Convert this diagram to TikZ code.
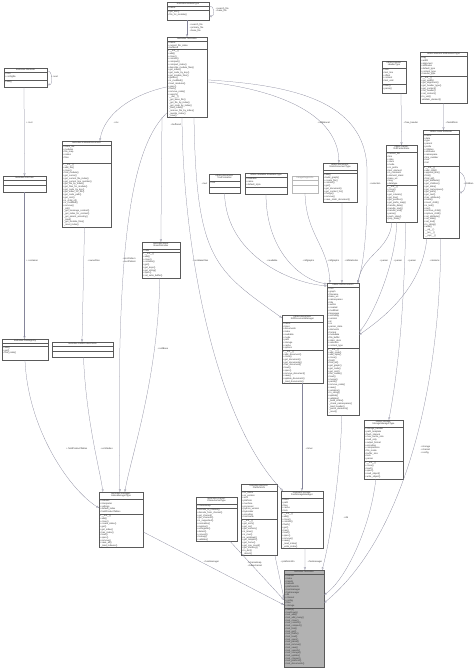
\documentclass[tikz,border=0pt]{standalone}
\usepackage{fontspec}
\setmainfont{Liberation Sans}
\usetikzlibrary{arrows.meta,fit}
\definecolor{edgec}{HTML}{85859A}
\definecolor{boxc}{HTML}{5A5A5A}
\definecolor{txtc}{HTML}{303030}
\newcommand\mf{\fontsize{2.3}{2.72}\selectfont}
\tikzset{
 cls/.style={draw=boxc, line width=0.25bp, inner sep=0pt},
 sepl/.style={draw=boxc, line width=0.25bp},
 ttl/.style={font=\mf, text=txtc, align=center, anchor=north, inner sep=0.4bp},
 mem/.style={font=\mf, text=txtc, align=left, anchor=north west, inner sep=0.5bp},
 rel/.style={draw=edgec, line width=0.25bp, -{Triangle[open,length=2.4bp,width=2bp]}},
 lbl/.style={font=\mf, text=txtc, align=left, anchor=west, inner sep=0.3bp},
}
\newcommand\umlbox[9]{%
 \node[cls, fit={(#2,#3) (#4,#5)}] (#1) {};
 \draw[sepl] (#2,#6) -- (#4,#6) (#2,#7) -- (#4,#7);
 \node[ttl] (#1t) at ({(#2+#4)/2},#3) {#8};
 \node[mem] (#1a) at (#2,#6) {#9};}
\newcommand\umlmeth[4]{\node[mem] (#1m) at (#2,#3) {#4};}
\begin{document}
\begin{tikzpicture}[x=1bp,y=-1bp]
\useasboundingbox (0,0) rectangle (474,668);

% ---------- boxes ----------
\umlbox{A}{167}{2}{209}{20}{6.5}{10.5}{textindex.ModuleType}{+ name}
\umlmeth{A}{167}{10.5}{+ get\_doc()\\+ file\_for\_module()}

\umlbox{B}{167}{37}{207}{117}{41.5}{49.5}{textindex.TextIndex}{+ name\\+ current\_file\_index\\+ buffered}
\umlmeth{B}{167}{49.5}{+ \_\_init\_\_()\\+ add()\\+ close()\\+ commit()\\+ compact()\\+ compact\_index()\\+ describe\_module\_files()\\+ get\_index()\\+ get\_node\_by\_key()\\+ get\_module\_files()\\+ getdoc()\\+ is\_modified()\\+ load\_modules()\\+ open()\\+ flush()\\+ remove\_node()\\+ search()\\- \_\_del\_\_()\\- \_get\_base\_file()\\- \_get\_file\_by\_index()\\- \_get\_node\_by\_index()\\- \_load\_index()\\- \_remove\_file\_by\_index()\\- \_rewrite\_index()\\- \_save()}

\umlbox{C}{4}{68}{47}{87}{72.5}{80.5}{textindex.FileNode}{+ files\\+ configfile}
\umlmeth{C}{4}{80.5}{+ add()}

\umlbox{E}{3}{176}{46}{192}{180}{185}{textindex.FileTree}{}
\umlbox{F}{2}{339}{48}{360}{343.5}{346}{textindex.FileRegistry}{}
\umlmeth{F}{2}{346}{+ add()\\+ get()\\+ find\_node()}

\umlbox{D}{62}{141}{111}{227}{145}{163.5}{textindex.IndexedDocument}{+ index\_file\\+ modules\\+ file\_map\\+ nodes\\+ files}
\umlmeth{D}{62}{163.5}{+ \_\_init\_\_()\\+ add\_file()\\+ close()\\+ find\_module()\\+ get\_cursor()\\+ get\_current\_file\_index()\\+ get\_current\_line\_number()\\+ get\_file\_by\_index()\\+ get\_files\_for\_module()\\+ get\_node\_by\_key()\\+ get\_index\_for\_file()\\+ get\_node\_path()\\+ get\_root()\\+ is\_child\_of()\\+ is\_modified()\\+ remove()\\- \_init()\\- \_get\_message\_context()\\- \_get\_index\_for\_context()\\- \_get\_parent\_ancestry()\\- \_load()\\- \_get\_module\_files()\\- \_reset\_index()}

\umlbox{G}{52}{342}{113}{357}{346.5}{351.5}{textindex.FieldProductTable}{}

\umlbox{H}{142}{242}{180}{278}{249.5}{252.5}{textindex.base.\\BaseFileIndex}{+ cells}
\umlmeth{H}{142}{252.5}{+ \_\_init\_\_()\\+ add()\\+ close()\\+ contains()\\+ get()\\+ get\_keys()\\+ get\_string()\\+ open()\\+ set\_write\_buffer()}

\umlbox{S9}{209}{174}{240}{193}{181.5}{187.5}{rdfdoc.document.\\TextFormatter}{+ text}
\umlbox{S10}{245}{173}{287}{194}{177.5}{187}{rdfdoc.readable.ReadableType}{+ readable\\+ name\\+ default\_style}

\node[draw=gray!55, line width=0.25bp, inner sep=0pt, fit={(292,176) (318,193)}] (IP) {};
\draw[gray!55, line width=0.25bp] (292,180) -- (318,180) (292,185) -- (318,185);
\node[ttl, text=gray] (IPt) at (305,176) {ImagePluginInfo};

\umlbox{M}{323}{163}{357}{202}{170.5}{173.5}{rdfdoc.document.\\StaticDocumentType}{}
\umlmeth{M}{323}{173.5}{+ add()\\+ build\_graph()\\+ create\_file()\\+ commit()\\+ get()\\+ get\_document()\\+ get\_content\_for()\\+ merge()\\+ remove()\\+ save\_static\_document()}

\umlbox{Q}{382}{61}{406}{93}{68.5}{84}{rdfdoc.header.\\HeaderType}{+ size\\+ last\_line\\+ offset\\+ content\\+ last\_end}
\umlmeth{Q}{382}{84}{+ filter()\\+ parse()}

\umlbox{R}{420}{52}{467}{103}{56.5}{76}{rdfdoc.element.RdfElementType}{+ tag\\+ width\\+ alignment\\+ attributes\\+ default\_type\\+ content\_type\\+ header\_type}
\umlmeth{R}{420}{76}{+ \_\_init\_\_()\\+ get\_width()\\+ get\_alignment()\\+ get\_header\_type()\\+ get\_content()\\+ set\_header()\\+ set\_content()\\+ to\_xml()\\- validate\_element()}

\umlbox{N}{386}{145}{417}{222}{152.5}{185}{rdfdoc.parser.\\RdfParserState}{+ current\_file\\+ line\\+ state\\+ stack\\+ mode\\+ ns\_prefix\\+ last\_element\\+ in\_comment\\+ element\_stack\\+ base\_uri\\+ lang\\+ datatype}
\umlmeth{N}{386}{185}{+ \_\_init\_\_()\\+ close()\\+ feed()\\+ get\_column()\\+ get\_line()\\+ get\_position()\\+ get\_prefix\_map()\\+ handle\_data()\\+ handle\_start()\\+ handle\_end()\\+ parse()\\+ push\_state()\\+ pop\_state()}

\umlbox{O}{423}{130}{459}{238}{134.5}{166}{rdfdoc.node.RdfNode}{+ name\\+ data\\+ type\\+ parent\\+ prefix\\+ children\\+ attributes\\+ namespace\\+ line\_number\\+ text\\+ tail}
\umlmeth{O}{423}{166}{+ \_\_init\_\_()\\+ add\_child()\\+ append\_text()\\+ find()\\+ find\_all()\\+ get\_attribute()\\+ get\_children()\\+ get\_data()\\+ get\_namespace()\\+ get\_path()\\+ get\_text()\\+ has\_attribute()\\+ index()\\+ insert\_child()\\+ is\_leaf()\\+ iter()\\+ remove\_child()\\+ replace\_child()\\+ set\_attribute()\\+ set\_data()\\+ set\_text()\\+ to\_string()\\+ walk()\\- \_\_eq\_\_()\\- \_\_len\_\_()\\- \_\_repr\_\_()}

\umlbox{L}{327}{283}{359}{415}{287.5}{348}{rdfdoc.RdfDocument}{+ root\\+ graph\\+ filename\\+ base\_uri\\+ namespaces\\+ title\\+ author\\+ created\\+ modified\\+ language\\+ encoding\\+ version\\+ id\\+ ns\\+ parser\_state\\+ elements\\+ format\\+ metadata\\+ file\_buffer\\+ static\_docs\\+ selection\\+ content\_type}
\umlmeth{L}{327}{348}{+ \_\_init\_\_()\\+ add\_node()\\+ add\_triple()\\+ close()\\+ find()\\+ find\_all()\\+ get\_graph()\\+ get\_node()\\+ get\_root()\\+ iter\_nodes()\\+ load()\\+ merge()\\+ parse()\\+ remove\_node()\\+ save()\\+ serialize()\\+ to\_string()\\+ update()\\+ validate()\\- \_build\_index()\\- \_check\_namespaces()\\- \_load\_header()\\- \_parse\_elements()\\- \_reset()}

\umlbox{K}{282}{315}{323}{383}{322.5}{350}{rdfdoc.document.\\RdfDocumentManager}{+ name\\+ timer\\+ documents\\+ index\\+ readable\\+ mode\\+ path\\+ storage\\+ cache\\+ options}
\umlmeth{K}{282}{350}{+ \_\_init\_\_()\\+ add\_document()\\+ close()\\+ get\_document()\\+ get\_documents()\\+ has\_document()\\+ load()\\+ open()\\+ remove\_document()\\+ save()\\+ update\_document()\\- \_load\_documents()}

\umlbox{P}{364}{420}{403}{479}{427.5}{461.5}{rdfdoc.storage.\\StorageManagerType}{+ storage\_handler\\+ path\_template\\+ flush\_interval\\+ max\_cache\_size\\+ read\_only\\+ output\_format\\+ encoding\\+ compression\\+ file\_mode\\+ buffer\_size\\+ lock\\+ parser}
\umlmeth{P}{364}{461.5}{+ \_\_init\_\_()\\+ close()\\+ load()\\+ open()\\+ read\_object()\\+ write\_object()}

\umlbox{I}{99}{492}{143}{547}{499.5}{514.5}{textindex.manager.\\IndexManagerType}{+ indexes\\+ interpreter\\+ settings\\+ default\_index\\+ fieldProductTables}
\umlmeth{I}{99}{514.5}{+ \_\_init\_\_()\\+ add()\\+ close()\\+ create\_index()\\+ get()\\+ get\_index()\\+ has\_index()\\+ load()\\+ open()\\+ remove()\\+ save\_all()\\- \_load\_indexes()}

\umlbox{S}{196}{497}{237}{541}{504.5}{508.5}{textindex.charset.\\CharacterSetType}{+ charsetmap}
\umlmeth{S}{196}{508.5}{+ encode\_to\_charset()\\+ decode\_from\_charset()\\+ get\_charset()\\+ get\_charsets()\\+ is\_supported()\\+ normalize()\\+ register()\\+ unregister()\\+ detect()\\+ convert()\\+ lookup()\\+ validate()}

\umlbox{T}{241}{484}{277}{555}{491.5}{519.5}{textindex.platform.\\PlatformInfo}{+ os\_name\\+ os\_version\\+ arch\\+ platform\\+ machine\\+ processor\\+ python\_version\\+ byteorder\\+ encoding\\+ hostname}
\umlmeth{T}{241}{519.5}{+ \_\_init\_\_()\\+ get\_arch()\\+ get\_os()\\+ get\_version()\\+ is\_linux()\\+ is\_mac()\\+ is\_windows()\\+ get\_tempdir()\\+ get\_home()\\+ get\_cpu\_count()\\+ get\_memory()\\+ to\_dict()\\- \_detect()}

\umlbox{J}{281}{491}{323}{548}{498.5}{512.5}{textindex.storage.\\FastStorageManager}{+ timer\\+ path\\+ files\\+ cache\\+ lock}
\umlmeth{J}{281}{512.5}{+ \_\_init\_\_()\\+ add()\\+ close()\\+ commit()\\+ flush()\\+ get()\\+ has()\\+ load()\\+ open()\\+ remove()\\+ save()\\- \_read\_index()\\- \_write\_index()}

\fill[gray!60] (284,570) rectangle (324,667);
\umlbox{G0}{284}{570}{324}{667}{574.5}{608}{textindex.TestIndex}{+ indexer\\+ index\\+ tmpdir\\+ basedir\\+ platformInfo\\+ hostmanager\\+ fastmanager\\+ db\\+ charset\\+ config\\+ files\\+ storage}
\umlmeth{G0}{284}{608}{+ setUp()\\+ tearDown()\\+ test\_add()\\+ test\_add\_many()\\+ test\_close()\\+ test\_commit()\\+ test\_compact()\\+ test\_find()\\+ test\_get()\\+ test\_index()\\+ test\_load()\\+ test\_open()\\+ test\_parse()\\+ test\_remove()\\+ test\_save()\\+ test\_search()\\+ test\_storage()\\+ test\_update()\\+ test\_charset()\\+ test\_platform()\\+ test\_documents()}

% ---------- connectors ----------
\draw[rel] ([xshift=-1bp]A.south) -- (B.north);
\node[lbl] (l1) at (189,28) {+ search\_file\\+ primary\_file\\+ base\_file};
\draw[rel] ([yshift=-4bp]A.north east) .. controls (215,5) and (215,17) .. ([yshift=-14bp]A.north east);
\node[lbl] (l2) at (215,10) {+ search\_file\\+ base\_file};

\draw[rel] ([yshift=-3bp]C.north east) .. controls (53,70) and (53,86) .. ([yshift=-16bp]C.north east);
\node[lbl] (l3) at (51,77) {+ next};
\draw[rel] ([xshift=-1.5bp]C.south) -- (E.north);
\node[lbl] (l4) at (26,123) {+ root};
\draw[rel] ([yshift=-50bp]B.north west) .. controls (130,95) and (104,115) .. ([xshift=38bp]D.north west);
\node[lbl] (l5) at (113,123) {+ ctx};
\draw[rel] (E.south) -- (E.south |- F.north);
\node[lbl] (l6) at (26,261) {+ container};
\draw[rel] ([xshift=-2bp]D.south) -- ([xshift=-0.5bp]G.north);
\node[lbl] (l7) at (87,261) {+ ownerfiles};
\draw[rel] ([yshift=-76bp]B.north west) .. controls (128,150) and (116,260) .. ([xshift=21bp]I.north west);
\node[lbl] (l8) at (122,260) {+ incrPattern\\+ exclPattern};
\draw[rel] ([xshift=-25bp]B.south) -- ([xshift=19bp]H.north west);
\node[lbl] (l9) at (170,125) {+ buffered};
\draw[rel] (F.south) .. controls (28,430) and (70,490) .. ([yshift=-16bp]I.north west);
\draw[rel] ([xshift=1bp]G.south) .. controls (86,420) and (100,470) .. ([xshift=4bp]I.north west);
\node[lbl] (l10) at (66,449) {+ fieldProductTables};
\node[lbl] (l11) at (100,449) {+ xmlNodes};
\draw[rel] ([xshift=18bp]H.south west) .. controls (158,380) and (130,460) .. ([xshift=26bp]I.north west);
\node[lbl] (l12) at (157,349) {+ cellBase};
\draw[rel] ([xshift=-5bp]B.south) .. controls (183,250) and (215,420) .. ([xshift=2bp]J.north west);
\node[lbl] (l13) at (192,261) {+ nonBaseFiles};
\draw[rel] ([xshift=7bp]B.south) .. controls (196,260) and (215,270) .. ([yshift=-3bp]K.north west);
\node[lbl] (l14) at (201,184) {+ text};
\draw[rel] (S9.south) .. controls (226,255) and (290,283) .. ([yshift=-3bp]L.north west);
\node[lbl] (l15) at (266,261) {+ readable};
\draw[rel] (S10.south) .. controls (266,250) and (300,280) .. ([yshift=-1bp]L.north west);
\node[lbl] (l16) at (302,261) {+ rdfgraphs};
\draw[rel] (IP.south) .. controls (306,235) and (328,245) .. ([xshift=3bp]L.north west);
\node[lbl] (l17) at (327,261) {+ rdfgraphs};
\draw[rel] ([xshift=2bp]M.south) -- ([xshift=15bp]L.north west);
\node[lbl] (l18) at (344,261) {+ rdfstaticdoc};
\draw[rel] ([yshift=-43bp]B.north east) .. controls (290,85) and (366,100) .. (367,170) .. controls (368,240) and (362,270) .. ([xshift=-2bp]L.north east);
\node[lbl] (l19) at (369,184) {+ selection};
\draw[rel] ([yshift=-45bp]B.north east) .. controls (280,90) and (338,115) .. ([xshift=16bp]M.north west);
\node[lbl] (l20) at (317,123) {+ rdfdatacat};
\draw[rel] ([xshift=6bp]N.south west) .. controls (390,250) and (362,255) .. ([xshift=-1bp]L.north east);
\node[lbl] (l21) at (379,261) {+ parser};
\draw[rel] ([xshift=11bp]N.south west) .. controls (395,270) and (370,320) .. ([yshift=-49bp]L.north east);
\node[lbl] (l22) at (393,261) {+ parser};
\draw[rel] ([xshift=20bp]N.south west) .. controls (404,300) and (400,360) .. ([xshift=25bp]P.north west);
\node[lbl] (l23) at (407,261) {+ parser};
\draw[rel] ([xshift=4bp]O.south west) .. controls (422,290) and (380,320) .. ([yshift=-52bp]L.north east);
\node[lbl] (l24) at (429,261) {+ rdelemc};
\draw[rel] ([xshift=18bp]O.south west) .. controls (440,400) and (400,540) .. ([yshift=-33bp]G0.north east);
\node[lbl] (l25) at (420,450) {+ storage\\+ charset\\+ config};
\draw[rel] ([xshift=15bp]L.south west) .. controls (340,480) and (330,540) .. ([xshift=-2bp]G0.north east);
\node[lbl] (l26) at (343,518) {+ db};
\draw[rel] ([xshift=12bp]P.south west) .. controls (370,530) and (345,580) .. ([yshift=-25bp]G0.north east);
\draw[rel] ([yshift=-40bp]I.north east) -- ([yshift=-35bp]G0.north west);
\node[lbl] (l27) at (203,562) {+ hostmanager};
\draw[rel] ([xshift=34bp]S.south west) -- ([yshift=-30bp]G0.north west);
\node[lbl] (l28) at (247,564) {+ charsetmap\\+ basecharset};
\draw[rel] ([xshift=34bp]T.south west) -- ([yshift=-28bp]G0.north west);
\node[lbl] (l29) at (280,562) {+ platformInfo};
\draw[rel] ([xshift=24bp]J.south west) -- ([xshift=21bp]G0.north west);
\node[lbl] (l30) at (307,562) {+ fastmanager};
\draw[rel] ([xshift=20bp]K.south west) -- ([xshift=21bp]J.north west);
\node[lbl] (l31) at (305,449) {+ timer};
\draw[rel] ([xshift=7bp]Q.south) -- (N.north);
\node[lbl] (l32) at (403,123) {+ free\_header};
\draw[rel] (R.south) -- ([xshift=2.5bp]O.north);
\node[lbl] (l33) at (445,123) {+ fastrdfmm};
\draw[rel] ([yshift=-42bp]O.north east) .. controls (467,174) and (467,191) .. ([yshift=-63bp]O.north east);
\node[lbl] (l34) at (463,184) {+ children};
\end{tikzpicture}
\end{document}
